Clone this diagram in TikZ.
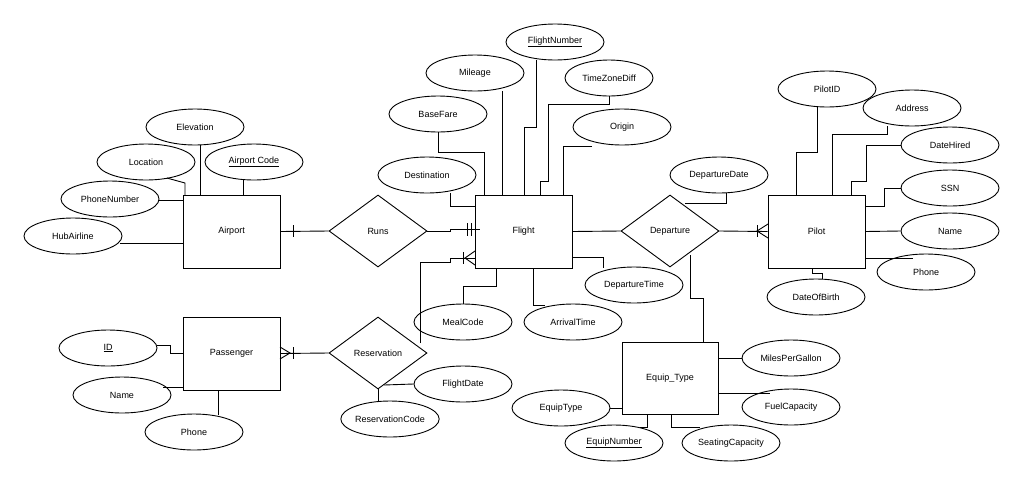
\documentclass[tikz,border=0pt]{standalone}
\usepackage{fontspec}
\setmainfont{Liberation Sans}
\usetikzlibrary{shapes.geometric}
\begin{document}
\begin{tikzpicture}[x=1pt,y=-1pt,line width=0.9pt,
  every node/.style={font=\fontsize{9}{11}\selectfont},
  att/.style={ellipse,draw,minimum width=98pt,minimum height=36pt,inner sep=0pt},
  ent/.style={rectangle,draw,minimum width=97pt,minimum height=73pt,inner sep=0pt},
  rel/.style={diamond,draw,minimum width=98pt,minimum height=72pt,inner sep=0pt}]
\useasboundingbox (0,0) rectangle (1024,488);
% entities
\node[ent] (ap) at (231.5,231.5) {Airport};
\node[ent] (fl) at (523.5,231.5) {Flight};
\node[ent] (pi) at (816.5,231.5) {Pilot};
\node[ent] (pa) at (231.5,353.5) {Passenger};
\node[ent,minimum width=96pt,minimum height=72pt] (eq) at (670,378) {Equip\_Type};
% relationships
\node[rel] (ru) at (378,231) {Runs};
\node[rel] (de) at (670,231) {Departure};
\node[rel] (re) at (378,353) {Reservation};
% airport attributes
\node[att] (elev) at (195,127) {Elevation};
\node[att] (loc) at (146,162) {Location};
\node[att] (apc) at (254,162) {\underline{Airport Code}};
\node[att] (phn) at (110,199) {PhoneNumber};
\node[att] (hub) at (73,236) {HubAirline};
\draw (loc.south east) ++(-14,3) coordinate (l1) -- (185,183) -- (185,195);
\draw (200,145) -- (200,195);
\draw (243,180) -- (243,195);
\draw (phn.east) ++(0,1) -- (183,200);
\draw (hub.east) ++(-2,7) -- (183,243);
% flight attributes
\node[att] (fnum) at (555,42) {\underline{FlightNumber}};
\node[att] (mil) at (475,73) {Mileage};
\node[att,minimum width=88pt] (tzd) at (609,78) {TimeZoneDiff};
\node[att] (bf) at (438,114) {BaseFare};
\node[att] (ori) at (622,127) {Origin};
\node[att] (dst) at (427,175) {Destination};
\node[att] (dpt) at (634,285) {DepartureTime};
\node[att] (mc) at (463,322) {MealCode};
\node[att] (at) at (573,322) {ArrivalTime};
\draw (536,60) -- (536,127) -- (524,127) -- (524,195);
\draw (502,91) -- (502,195);
\draw (609,96) -- (609,104) -- (548,104) -- (548,181) -- (540,181) -- (540,195);
\draw (438,132) -- (438,152) -- (484,152) -- (484,195);
\draw (592,146) -- (563,146) -- (563,195);
\draw (450,193) -- (450,206) -- (475,206);
\draw (572,257) -- (603,257) -- (603,268);
\draw (463,304) -- (463,286) -- (496,286) -- (496,268);
\draw (533,268) -- (533,305) -- (545,305);
% runs connections
\draw (ap.east) -- (ru.west);
\draw (293,225) -- (293,237);
\draw (ru.east) -- (450,231) -- (450,229) -- (480,229);
\draw (467,223) -- (467,236);
\draw (471,223) -- (471,236);
% reservation
\draw (pa.east) -- (re.west);
\draw (293,347) -- (293,359);
\draw (280,347) -- (290,353) -- (280,359);
\draw (420,343) -- (420,262) -- (450,262) -- (450,258) -- (475,258);
\draw (463,252) -- (463,264);
\draw (475,251) -- (465,258) -- (475,265);
\node[att] (fd) at (463,384) {FlightDate};
\node[att] (rc) at (390,419) {ReservationCode};
\draw (384,385) -- (fd.west);
\draw (re.south) -- (378,401);
% passenger attributes
\node[att] (pid) at (108,348) {\underline{ID}};
\node[att] (pnm) at (122,395) {Name};
\node[att] (pph) at (194,432) {Phone};
\draw (157,345) -- (170,345) -- (170,353) -- (183,353);
\draw (163,387) -- (183,387);
\draw (218,415) -- (218,390);
% departure
\node[att] (dd) at (719,175) {DepartureDate};
\draw (726,193) -- (726,203) -- (685,203);
\draw (fl.east) -- (de.west);
\draw (de.east) -- (pi.west);
\draw (757,225) -- (757,237);
\draw (768,224) -- (757,231) -- (768,238);
\draw (690,255) -- (690,298) -- (703,298) -- (703,342);
% pilot attributes
\node[att] (pid2) at (827,89) {PilotID};
\node[att] (adr) at (912,108) {Address};
\node[att] (dh) at (950,145) {DateHired};
\node[att] (ssn) at (950,188) {SSN};
\node[att] (pnm2) at (950,231) {Name};
\node[att] (pph2) at (926,272) {Phone};
\node[att] (dob) at (816,297) {DateOfBirth};
\draw (817,107) -- (817,152) -- (796,152) -- (796,195);
\draw (887,126) -- (887,134) -- (832,134) -- (832,195);
\draw (dh.west) -- (866,145) -- (866,181) -- (851,181) -- (851,195);
\draw (ssn.west) -- (884,188) -- (884,206) -- (865,206);
\draw (pi.east) -- (pnm2.west);
\draw (865,258) -- (913,258);
\draw (822,279) -- (822,273) -- (812,273) -- (812,268);
% equip attributes
\node[att] (mpg) at (791,358) {MilesPerGallon};
\node[att] (fc) at (791,407) {FuelCapacity};
\node[att] (et) at (561,408) {EquipType};
\node[att] (en) at (614,443) {\underline{EquipNumber}};
\node[att] (sc) at (731,443) {SeatingCapacity};
\draw (718,358) -- (mpg.west);
\draw (718,393) -- (770,393);
\draw (et.east) -- (622,408);
\draw (647,414) -- (647,427) -- (640,427);
\draw (671,414) -- (671,427) -- (700,427);
\end{tikzpicture}
\end{document}
